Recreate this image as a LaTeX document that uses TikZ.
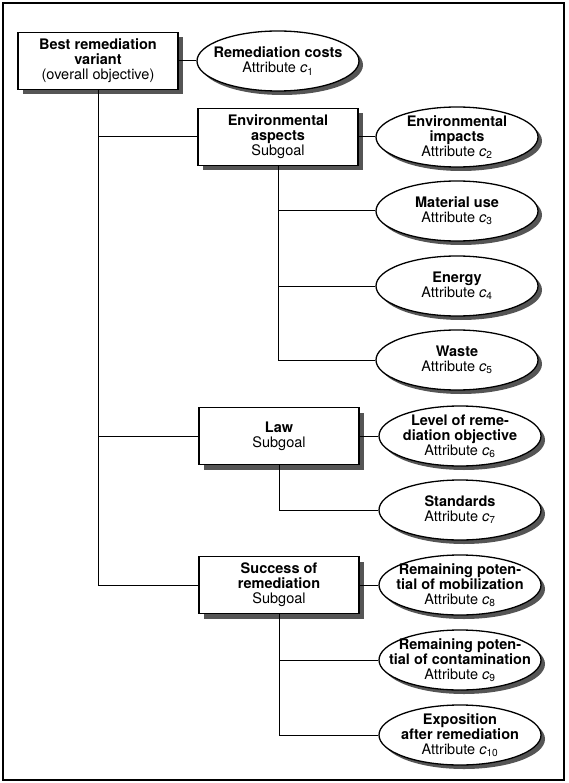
\documentclass[tikz,border=0pt]{standalone}
\usepackage{fontspec}
\setmainfont{TeX Gyre Heros}
\usepackage{tikz}
\usetikzlibrary{shapes.geometric,shadows}
\definecolor{shade}{RGB}{85,85,85}
\newcommand{\attribute}[1]{Attribute \textit{c}\textsubscript{#1}}
\newcommand{\drawthin}{\draw[line width=1pt]}
\tikzset{
  goal/.style={draw,line width=1.3pt,fill=white,align=center,inner sep=0pt,
    minimum width=160pt,minimum height=57pt,
    drop shadow={shadow xshift=5pt,shadow yshift=-5pt,fill=shade,opacity=1}},
  attr/.style={ellipse,draw,line width=1.3pt,fill=white,align=center,
    inner xsep=-25pt,inner ysep=-3pt,
    minimum width=162pt,minimum height=60pt,
    drop shadow={shadow xshift=4pt,shadow yshift=-4pt,fill=shade,opacity=1}}
}

\begin{document}
\begin{tikzpicture}[x=1pt,y=-1pt,every node/.style={font=\fontsize{14.5}{15}\selectfont}]
\useasboundingbox (0,0) rectangle (569,783);
\draw[line width=2.5pt] (3,3) rectangle (564,780);
% overall objective
\node[goal] (root) at (98,61) {\textbf{Best remediation}\\\textbf{variant}\\(overall objective)};
\node[attr] (c1) at (278,61) {\textbf{Remediation costs}\\\attribute{1}};
% subgoals
\node[goal] (env) at (278,137) {\textbf{Environmental}\\\textbf{aspects}\\Subgoal};
\node[goal] (law) at (279,436) {\textbf{Law}\\Subgoal};
\node[goal] (succ) at (279,585) {\textbf{Success of}\\\textbf{remediation}\\Subgoal};
% attributes
\node[attr] (c2) at (457,137) {\textbf{Environmental}\\\textbf{impacts}\\\attribute{2}};
\node[attr] (c3) at (457,211) {\textbf{Material use}\\\attribute{3}};
\node[attr] (c4) at (457,286) {\textbf{Energy}\\\attribute{4}};
\node[attr] (c5) at (457,360) {\textbf{Waste}\\\attribute{5}};
\node[attr] (c6) at (460,436) {\textbf{Level of reme-}\\\textbf{diation objective}\\\attribute{6}};
\node[attr] (c7) at (460,510) {\textbf{Standards}\\\attribute{7}};
\node[attr] (c8) at (460,585) {\textbf{Remaining poten-}\\\textbf{tial of mobilization}\\\attribute{8}};
\node[attr] (c9) at (460,660) {\textbf{Remaining poten-}\\\textbf{tial of contamination}\\\attribute{9}};
\node[attr] (c10) at (460,735) {\textbf{Exposition}\\\textbf{after remediation}\\\attribute{10}};
% connectors
\drawthin (root) -- (c1);
\drawthin (root.south) |- (env.west);
\drawthin (root.south) |- (law.west);
\drawthin (root.south) |- (succ.west);
\drawthin (env) -- (c2);
\drawthin (env.south) |- (c3.west);
\drawthin (env.south) |- (c4.west);
\drawthin (env.south) |- (c5.west);
\drawthin (law) -- (c6);
\drawthin (law.south) |- (c7.west);
\drawthin (succ) -- (c8);
\drawthin (succ.south) |- (c9.west);
\drawthin (succ.south) |- (c10.west);
\end{tikzpicture}
\end{document}
